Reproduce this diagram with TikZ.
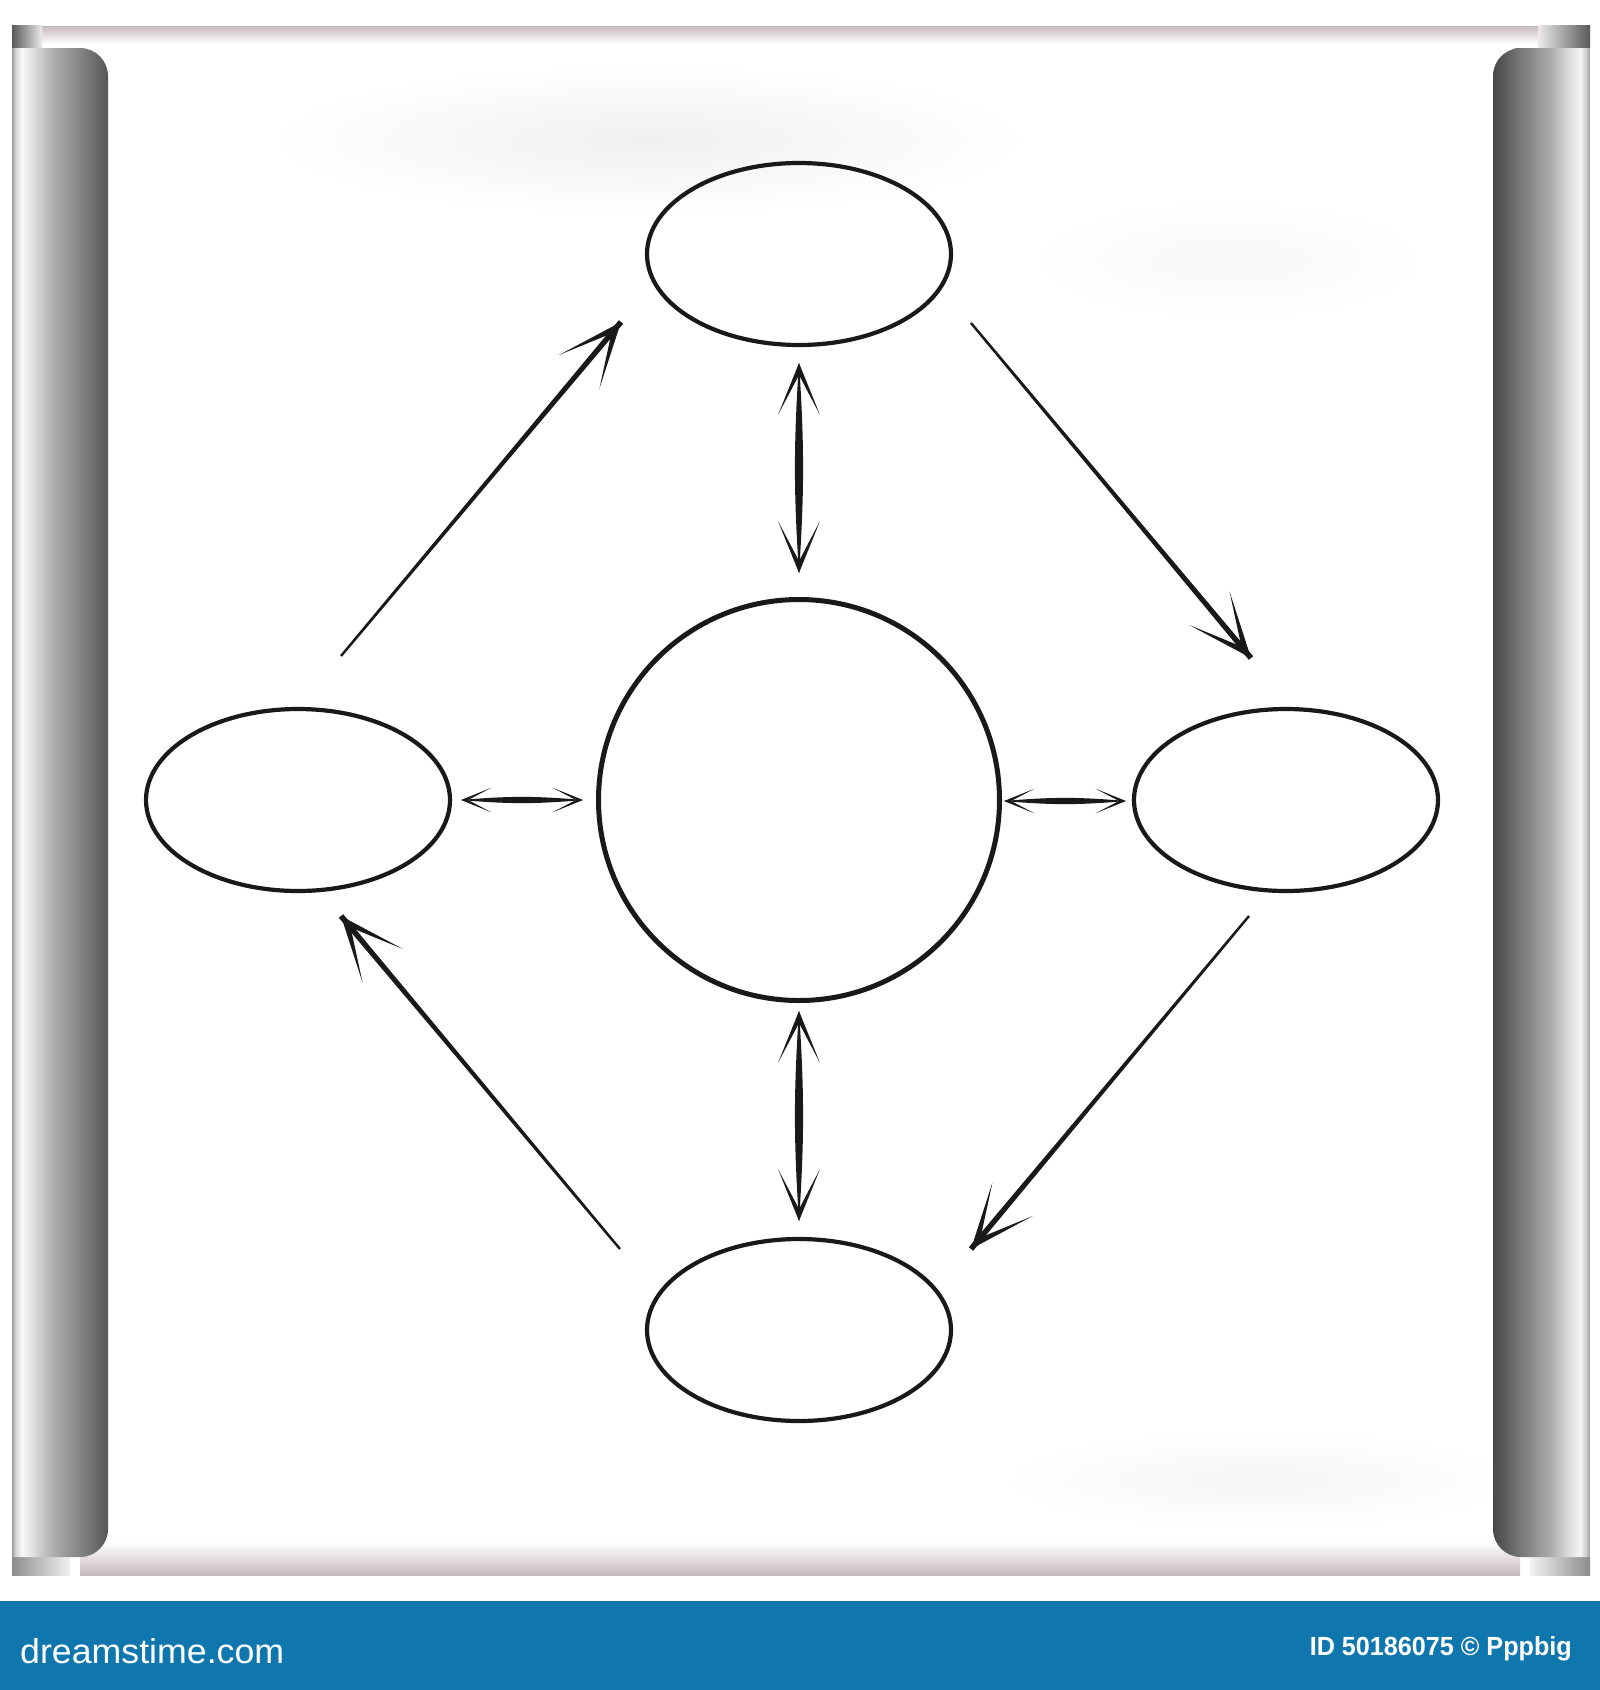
\documentclass[tikz,border=0pt]{standalone}
\usepackage{fontspec}
\setmainfont{Liberation Sans}
\usepackage{graphicx}
\usetikzlibrary{shapes.geometric,calc}
\definecolor{barblue}{RGB}{16,119,174}
\definecolor{pinkgray}{RGB}{200,186,191}
\pgfdeclarehorizontalshading{rollL}{100bp}{color(0bp)=(black!38); color(25bp)=(black!38); color(27bp)=(black!16); color(30bp)=(black!3); color(34bp)=(black!9); color(45bp)=(black!30); color(60bp)=(black!48); color(75bp)=(black!66); color(100bp)=(black!66)}
\pgfdeclarehorizontalshading{rollR}{100bp}{color(0bp)=(black!72); color(25bp)=(black!72); color(40bp)=(black!52); color(55bp)=(black!32); color(66bp)=(black!10); color(70bp)=(black!4); color(73bp)=(black!20); color(75bp)=(black!40); color(100bp)=(black!40)}
% arrowhead: tip, other end, barb length, half angle, inner offset
\newcommand\myahead[5]{\fill ($(#1)!#3!#4:(#2)$) -- (#1) -- ($(#1)!#3!-#4:(#2)$) -- ($(#1)!#5!(#2)$) -- cycle;}
% tapered single shaft
\newcommand\myshaft[4]{\fill ($(#1)!#3!90:(#2)$) -- ($(#1)!#3!-90:(#2)$) -- ($(#2)!#4!90:(#1)$) -- ($(#2)!#4!-90:(#1)$) -- cycle;}
\tikzset{
  bubble/.style={ellipse, draw=black!90, line width=4.2pt, minimum width=304pt, minimum height=182pt, inner sep=0pt},
  hub/.style={circle, draw=black!90, line width=5pt, minimum size=401pt, inner sep=0pt},
  ink/.style={black!90}
}
\begin{document}
\begin{tikzpicture}[x=1pt,y=-1pt]
\useasboundingbox (0,0) rectangle (1600,1690);
\fill[white] (0,0) rectangle (1600,1690);
% soft wrinkles on the sheet
\shade[inner color=black!6, outer color=white] (650,140) ellipse [x radius=380, y radius=75];
\shade[inner color=black!3, outer color=white] (1230,260) ellipse [x radius=200, y radius=60];
\shade[inner color=black!4, outer color=white] (1260,1480) ellipse [x radius=260, y radius=50];
% top and bottom edges of the sheet
\shade[top color=pinkgray, bottom color=white] (40,26) rectangle (1540,44);
\draw[black!28, line width=1pt] (40,26) -- (1540,26);
\shade[top color=white, bottom color=pinkgray] (80,1542) rectangle (1520,1575);
% caps
\shade[left color=black!65, right color=black!8] (12,25) rectangle (42,48);
\shade[left color=black!8, right color=black!65] (1538,25) rectangle (1590,47);
\shade[left color=black!45, right color=black!5] (12,1557) rectangle (70,1575);
\shade[left color=black!5, right color=black!45] (1530,1557) rectangle (1590,1575);
% rollers
\shade[shading=rollL] (12,1557) -- (12,48) -- (60,48) [rounded corners=28] -- (108,48) -- (108,1557) -- (60,1557) [sharp corners] -- (12,1557) -- cycle;
\shade[shading=rollR] (1590,48) -- (1590,1557) -- (1540,1557) [rounded corners=28] -- (1493,1557) -- (1493,48) -- (1540,48) [sharp corners] -- (1590,48) -- cycle;
% nodes
\node[bubble] (top) at (799,254) {};
\node[bubble] (left) at (298,800) {};
\node[bubble] (right) at (1286,800) {};
\node[bubble] (bottom) at (799,1330) {};
\node[hub] (hub) at (799,800) {};
% arrow end points
\coordinate (a1s) at (341,656);  \coordinate (a1t) at (621,322);
\coordinate (a2s) at (971,323);  \coordinate (a2t) at (1251,658);
\coordinate (a3s) at (1249,916); \coordinate (a3t) at (971,1249);
\coordinate (a4s) at (620,1249); \coordinate (a4t) at (341,916);
\coordinate (v1a) at (799,363);  \coordinate (v1b) at (799,573);
\coordinate (v2a) at (799,1011); \coordinate (v2b) at (799,1221);
\coordinate (h1a) at (461,800);  \coordinate (h1b) at (583,800);
\coordinate (h2a) at (1004,801); \coordinate (h2b) at (1126,801);
% diagonal cycle arrows
\begin{scope}[ink]
\foreach \s/\t in {a1s/a1t,a2s/a2t,a3s/a3t,a4s/a4t}{
  \myshaft{\s}{\t}{1.2pt}{2.8pt}
  \myahead{\t}{\s}{70pt}{22}{15pt}
}
% double arrows
\foreach \a/\b/\bnd/\L/\io in {v1a/v1b/3.8/56pt/12pt, v2a/v2b/3.8/56pt/12pt, h1a/h1b/5/33pt/7pt, h2a/h2b/5/33pt/7pt}{
  \fill (\a) to[bend left=\bnd] (\b) to[bend left=\bnd] (\a) -- cycle;
  \myahead{\a}{\b}{\L}{22}{\io}
  \myahead{\b}{\a}{\L}{22}{\io}
}
\end{scope}
% bottom bar
\fill[barblue] (0,1601) rectangle (1600,1690);
\node[anchor=base west, text=white, inner sep=0pt] (logo) at (20,1663) {\resizebox{264pt}{25pt}{dreamstime.com}};
\node[anchor=base east, text=white, inner sep=0pt] (credit) at (1572,1655) {\resizebox{262pt}{19pt}{\bfseries ID 50186075 \textcopyright{} Pppbig}};
\end{tikzpicture}
\end{document}
